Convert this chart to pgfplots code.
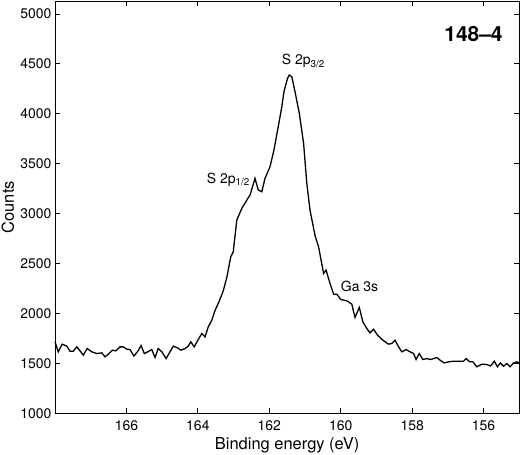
\documentclass[border=0pt]{standalone}
\usepackage{pgfplots}
\pgfplotsset{compat=1.18}
\usepackage{pgfplotstable}
\usepackage{fontspec}
\setmainfont{TeX Gyre Heros}
\pgfplotstableread{
x y
168.00 1715
167.91 1615
167.80 1692
167.67 1672
167.58 1622
167.49 1622
167.39 1665
167.30 1625
167.21 1582
167.10 1648
166.97 1615
166.83 1598
166.69 1605
166.60 1565
166.49 1598
166.39 1632
166.30 1625
166.18 1665
166.09 1665
165.99 1642
165.90 1638
165.79 1572
165.68 1622
165.59 1678
165.50 1598
165.39 1618
165.29 1638
165.20 1558
165.11 1648
165.01 1615
164.89 1548
164.78 1615
164.69 1672
164.59 1658
164.47 1632
164.36 1648
164.27 1672
164.20 1715
164.10 1665
164.00 1732
163.89 1799
163.80 1765
163.71 1865
163.61 1932
163.52 2030
163.41 2116
163.29 2225
163.19 2360
163.08 2567
163.01 2617
162.91 2935
162.77 3052
162.63 3135
162.54 3185
162.40 3353
162.31 3236
162.21 3219
162.12 3353
161.98 3470
161.87 3637
161.75 3870
161.65 4070
161.59 4221
161.49 4355
161.44 4388
161.37 4371
161.28 4221
161.16 4005
161.04 3704
160.95 3303
160.86 3035
160.72 2780
160.62 2667
160.48 2400
160.41 2434
160.30 2300
160.20 2193
160.11 2193
160.00 2140
159.83 2126
159.69 2093
159.60 1959
159.48 2060
159.38 1915
159.27 1849
159.18 1805
159.08 1842
158.97 1782
158.82 1732
158.66 1692
158.57 1699
158.48 1732
158.38 1665
158.29 1615
158.17 1638
158.06 1615
157.96 1598
157.89 1538
157.80 1598
157.70 1538
157.59 1548
157.48 1538
157.31 1558
157.22 1532
157.10 1504
156.98 1515
156.84 1521
156.70 1521
156.56 1521
156.49 1548
156.39 1515
156.30 1515
156.19 1465
156.05 1491
155.91 1488
155.80 1474
155.70 1521
155.61 1465
155.53 1504
155.44 1471
155.35 1498
155.26 1465
155.16 1504
155.07 1515
155.00 1504
}\spectrum
\begin{document}
\begin{tikzpicture}
\begin{axis}[name=ax,
  scale only axis, width=464bp, height=412bp,
  x dir=reverse, xmin=155, xmax=168, ymin=1000, ymax=5130,
  xtick={156,158,160,162,164,166},
  ytick={1000,1500,2000,2500,3000,3500,4000,4500,5000},
  tick align=inside, major tick length=5bp,
  axis line style={line width=0.9bp},
  every tick/.style={black, line width=0.9bp},
  /pgf/number format/assume math mode=true,
  /pgf/number format/1000 sep={},
  tick label style={font=\fontsize{14}{16}\selectfont},
  xticklabel style={yshift=-4bp},
  label style={font=\fontsize{16.5}{19}\selectfont},
  xlabel={Binding energy (eV)},
  ylabel={Counts},
  xlabel style={at={(axis description cs:0.5,-0.0874)}, anchor=base},
  ylabel style={at={(axis description cs:-0.0884,0.5)}, anchor=base},
  clip=false,
]
\addplot[black, line width=1.3bp, mark=none] table[x=x,y=y] {\spectrum};
\node[anchor=base west, font=\fontsize{14}{16}\selectfont] at (axis cs:161.745,4489) {S 2p\textsubscript{3/2}};
\node[anchor=base west, font=\fontsize{14}{16}\selectfont] at (axis cs:163.846,3303) {S 2p\textsubscript{1/2}};
\node[anchor=base west, font=\fontsize{14}{16}\selectfont] at (axis cs:160.093,2216) {Ga 3s};
\node[anchor=base west, font=\fontsize{21}{24}\selectfont\bfseries] at (axis cs:157.196,4729) {148--4};
\end{axis}
\pgfresetboundingbox
\path ([xshift=-55bp,yshift=-41bp]ax.south west) rectangle ([xshift=0.7bp,yshift=1bp]ax.north east);
\end{tikzpicture}
\end{document}
